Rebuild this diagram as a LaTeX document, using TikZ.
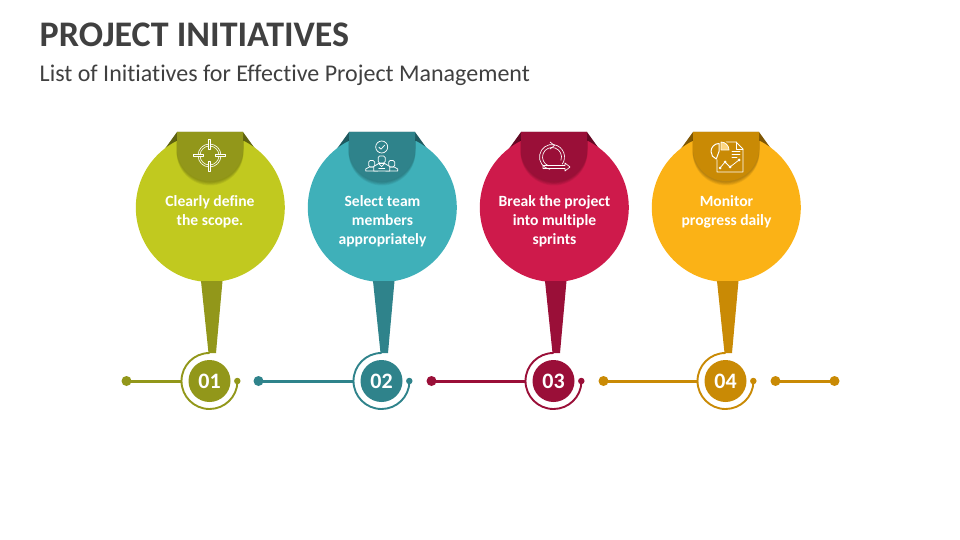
\documentclass[tikz,border=0pt]{standalone}
\usepackage{fontspec}
\setmainfont{Carlito}[Ligatures=NoCommon]
\definecolor{oliveL}{HTML}{C1C91F}\definecolor{oliveD}{HTML}{92971A}\definecolor{oliveF}{HTML}{5F6310}
\definecolor{tealL}{HTML}{3FB0B9}\definecolor{tealD}{HTML}{2F838B}\definecolor{tealF}{HTML}{1E5A60}
\definecolor{redL}{HTML}{CE1A4B}\definecolor{redD}{HTML}{9A0F38}\definecolor{redF}{HTML}{650824}
\definecolor{ambL}{HTML}{FBB216}\definecolor{ambD}{HTML}{C98A05}\definecolor{ambF}{HTML}{7F5703}
\definecolor{titlegrey}{HTML}{404040}
\tikzset{
  bigdisc/.style={circle,inner sep=0pt,minimum size=149pt},
  numdisc/.style={circle,inner sep=0pt,minimum size=42pt,text=white,font=\bfseries\fontsize{22}{22}\selectfont},
  ringnode/.style={circle,inner sep=0pt,minimum size=56pt},
  enddot/.style={circle,inner sep=0pt,minimum size=10pt},
  tipdot/.style={circle,inner sep=0pt,minimum size=6.5pt},
  bodytext/.style={text=white,align=center,font=\bfseries\fontsize{15.6}{19}\selectfont},
  iconline/.style={draw=white,line width=.75pt,line join=round,line cap=round},
  linkline/.style={line width=3pt,shorten <=-1.5pt,shorten >=-1pt},
}
\newcommand{\pinunit}[6]{%
 % #1 centre x, #2 light, #3 dark, #4 fold colour, #5 number, #6 name
 \fill[#4] (#1-33,132) -- (#1+33,132) -- (#1+46,150) -- (#1-46,150) -- cycle;
 \node[bigdisc,fill=#2] (disc#6) at (#1+.3,207.5) {};
 \foreach \s in {1,2,...,5}{
  \fill[black,opacity=.055] (#1-33-.5,140) -- (#1+33+.5,140) -- (#1+33+.5,148+\s*.8) arc[start angle=0,end angle=180,radius=33.5] -- cycle;}
 \fill[#3] (#1-33,132) -- (#1+33,132) -- (#1+33,148) arc[start angle=0,end angle=180,radius=33] -- cycle;
 \node[numdisc,fill=#3] (num#6) at (#1-.5,381) {#5};
 \node[ringnode] (ring#6) at (num#6) {};
 \fill[#3] (#1-9,281) -- (#1+12.5,281) -- (#1+6,353) -- (#1-1.5,353) -- cycle;
 \draw[#3,line width=1.9pt] (#1-.5,353) arc[start angle=270,end angle=2,radius=28];
 \node[tipdot,fill=#3] (tip#6) at (#1+27.3,381) {};
}
\begin{document}
\begin{tikzpicture}[x=1pt,y=-1pt]
\useasboundingbox (0,0) rectangle (960,540);
\node[anchor=base west,inner sep=0pt,text=titlegrey,font=\bfseries\fontsize{36}{40}\selectfont] (title) at (39.5,46.5) {PROJECT INITIATIVES};
\node[anchor=base west,inner sep=0pt,text=titlegrey,font=\fontsize{24}{28}\selectfont] (subtitle) at (39.5,81.5) {List of Initiatives for Effective Project Management};

\pinunit{210}{oliveL}{oliveD}{oliveF}{01}{A}
\pinunit{382}{tealL}{tealD}{tealF}{02}{B}
\pinunit{554}{redL}{redD}{redF}{03}{C}
\pinunit{726}{ambL}{ambD}{ambF}{04}{D}

\node[bodytext] (textA) at (210,212) {Clearly define\\the scope.};
\node[bodytext] (textB) at (382.5,221.5) {Select team\\members\\appropriately};
\node[bodytext] (textC) at (554.5,221.5) {Break the project\\into multiple\\sprints};
\node[bodytext] (textD) at (726.5,212) {Monitor\\progress daily};

% timeline connectors
\node[enddot,fill=oliveD] (startA) at (126.5,381) {};
\node[enddot,fill=tealD] (startB) at (258.5,381) {};
\node[enddot,fill=redD] (startC) at (431.5,381) {};
\node[enddot,fill=ambD] (startD) at (603.5,381) {};
\node[enddot,fill=ambD] (endE1) at (775.5,381) {};
\node[enddot,fill=ambD] (endE2) at (834.5,381) {};
\draw[oliveD,linkline] (startA) -- (ringA);
\draw[tealD,linkline] (startB) -- (ringB);
\draw[redD,linkline] (startC) -- (ringC);
\draw[ambD,linkline] (startD) -- (ringD);
\draw[ambD,linkline,shorten >=-1.5pt] (endE1) -- (endE2);

% icon 1: target
\begin{scope}[shift={(209.5,155.5)}]
 \draw[iconline,line width=.6pt] (0,0) circle[radius=11.5];
 \draw[iconline,line width=.6pt] (0,0) circle[radius=9.5];
 \foreach \a in {0,90,180,270}{
  \begin{scope}[rotate=\a]
   \fill[oliveD] (6,-1.6) rectangle (16.5,1.6);
   \draw[iconline,line width=.5pt] (6,-.9) -- (16,-.9) -- (16,.9) -- (6,.9) -- cycle;
  \end{scope}}
\end{scope}

% icon 2: team
\begin{scope}[shift={(381.7,147)}]
 \draw[iconline] (0,0) circle[radius=6];
 \draw[iconline] (-2.8,.2) -- (-.7,2.2) -- (2.9,-1.8);
 \foreach \dx in {-10,10}{
  \draw[iconline,rounded corners=1.5pt] (\dx-3,13.5) rectangle (\dx+3,20);
  \draw[iconline] (\dx-6,24) -- (\dx-6,22) -- (\dx-2.5,20) -- (\dx+2.5,20) -- (\dx+6,22) -- (\dx+6,24) -- cycle;}
 \draw[iconline,fill=tealD,rounded corners=1.5pt] (-3.5,9) rectangle (3.5,16);
 \draw[iconline,fill=tealD] (-8,24) -- (-8,19.5) -- (-3,16.5) -- (3,16.5) -- (8,19.5) -- (8,24) -- cycle;
 \draw[iconline] (-3,16.5) -- (0,19.5) -- (3,16.5);
 \draw[iconline] (-3,21) -- (3,21);
\end{scope}

% icon 3: sprint loop
\begin{scope}[shift={(552,157)}]
 \draw[iconline,line width=.65pt] (100:12.5) arc[start angle=100,end angle=395,radius=12.5];
 \draw[iconline,line width=.65pt] (110:9.5) arc[start angle=110,end angle=380,radius=9.5];
 \draw[iconline,line width=.65pt] (-9,8.5) -- (13,8.5) -- (13,6) -- (18,10) -- (13,14) -- (13,11.5) -- (-9,11.5) -- cycle;
 \draw[iconline,line width=.65pt] (-2,-15) -- (2.5,-11.5) -- (-2,-8);
\end{scope}

% icon 4: report
\begin{scope}[shift={(716,142)}]
 \draw[iconline] (10,0) -- (20,0) -- (27,7) -- (27,30) -- (1,30) -- (1,15);
 \draw[iconline] (20,0) -- (20,7) -- (27,7);
 \fill[ambD] (4,8) circle[radius=10];
 \fill[ambL!55!white] (5,8) -- (5,0) arc[start angle=270,end angle=360,radius=8] -- cycle;
 \draw[iconline,line width=1pt] (3,9.5) -- (3,1.5) arc[start angle=270,end angle=110,radius=8] -- cycle;
 \draw[iconline] (5,8) -- (5,0) arc[start angle=270,end angle=360,radius=8] -- cycle;
 \draw[iconline] (16,9.5) -- (24,9.5) (16,12.5) -- (24,12.5) (16,15.5) -- (21,15.5);
 \draw[iconline] (4,26) -- (9,20) -- (14,25) -- (23,18);
 \foreach \p in {(4,26),(9,20),(14,25),(23,18)}\fill[white] \p circle[radius=1.5];
\end{scope}
\end{tikzpicture}
\end{document}
